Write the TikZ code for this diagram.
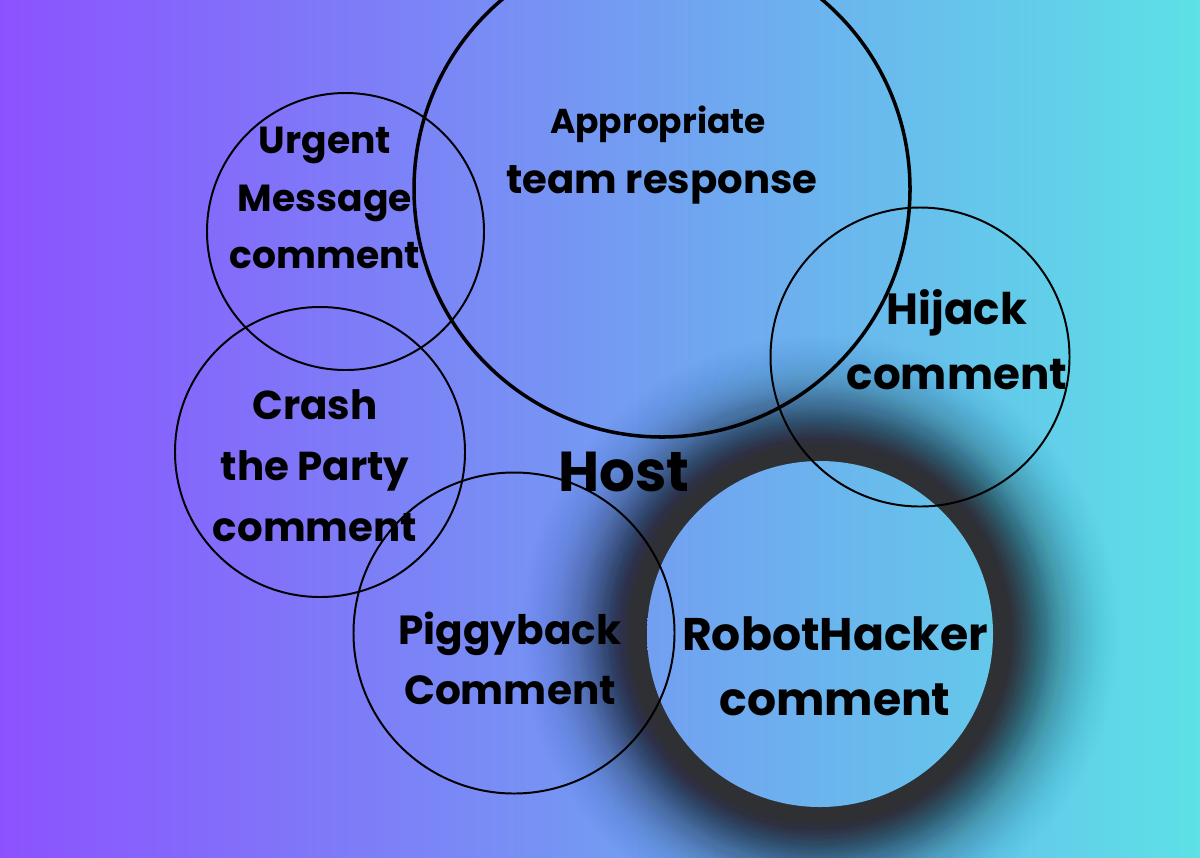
\documentclass[tikz,border=0pt]{standalone}
\usepackage{fontspec}
\setmainfont{Poppins}
\definecolor{gradL}{HTML}{8C52FF}
\definecolor{gradR}{HTML}{5CE1E6}
\definecolor{shadowc}{HTML}{2E3033}
\tikzset{
  ring/.style={draw=black, line width=1.4pt},
  bigring/.style={draw=black, line width=2.5pt},
  lbl/.style={align=center, inner sep=0pt, text=black, font=\bfseries},
}
\begin{document}
\begin{tikzpicture}[x=0.025cm, y=-0.025cm]
\useasboundingbox (0,0) rectangle (1200,857);
\shade[left color=gradL, right color=gradR] (0,0) rectangle (1200,857);
\coordinate (rc) at (820,634);
% soft shadow of RobotHacker circle: stacked discs
\begin{scope}
\clip (0,0) rectangle (1200,857);
\foreach \k in {1,...,75}{
  \pgfmathsetmacro\aop{1-(1-0.9*exp(-((2*\k-1)/62)^2))/(1-0.9*exp(-((2*\k+1)/62)^2))}
  \fill[shadowc, opacity=\aop] (rc) circle[radius={(173+2*\k)*0.025cm}];
}
\end{scope}
\begin{scope}
\clip (rc) circle[radius={173*0.025cm}];
\shade[left color=gradL, right color=gradR] (0,0) rectangle (1200,857);
\end{scope}
% circles
\draw[bigring] (662,189) circle[radius={248*0.025cm}];
\draw[ring] (345.5,231.5) circle[radius={138.5*0.025cm}];
\draw[ring] (320,452) circle[radius={145*0.025cm}];
\draw[ring] (920,357) circle[radius={149.5*0.025cm}];
\draw[ring] (514,633) circle[radius={160.5*0.025cm}];
% labels
\node[lbl, font=\bfseries\fontsize{24.5}{30}\selectfont] (app1) at (658,124) {Appropriate};
\node[lbl, font=\bfseries\fontsize{28.6}{36}\selectfont] (app2) at (662,185) {team response};
\node[lbl, font=\bfseries\fontsize{26.8}{40.9}\selectfont] (urgent) at (325,198) {Urgent\\Message\\comment};
\node[lbl, font=\bfseries\fontsize{28.7}{43.4}\selectfont] (crash) at (315,466) {Crash\\the Party\\comment};
\node[lbl, font=\bfseries\fontsize{31}{46.2}\selectfont] (hijack) at (957,340) {Hijack\\comment};
\node[lbl, font=\bfseries\fontsize{40}{50}\selectfont] (host) at (624,472) {Host};
\node[lbl, font=\bfseries\fontsize{28.9}{42.7}\selectfont] (piggy) at (510,658) {Piggyback\\Comment};
\node[lbl, font=\bfseries\fontsize{32.5}{46.2}\selectfont] (robot) at (835,666) {RobotHacker\\comment};
\end{tikzpicture}
\end{document}
